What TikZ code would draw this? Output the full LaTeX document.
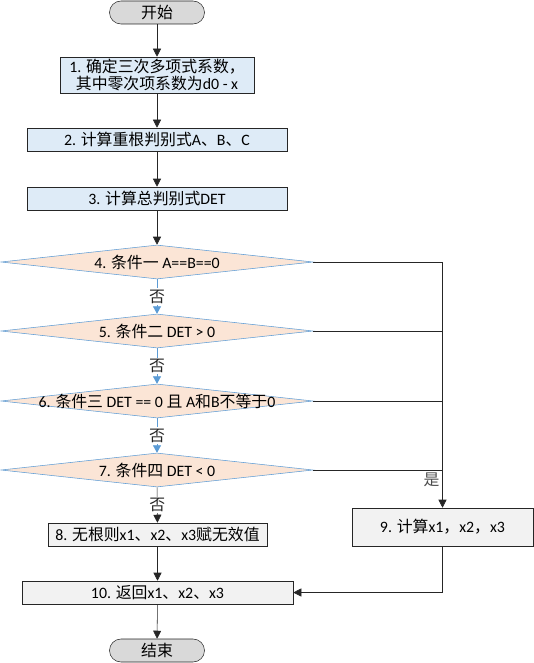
\documentclass[tikz,border=0pt]{standalone}
\usepackage{fontspec}
\setmainfont{Carlito}
\newfontfamily\zhfont{Noto Sans CJK SC}
\newcommand{\zhtext}[1]{{\zhfont #1}}
\usetikzlibrary{shapes.geometric,arrows.meta,calc}
\definecolor{termgray}{HTML}{D9D9D9}
\definecolor{stepblue}{HTML}{DEEBF7}
\definecolor{condfill}{HTML}{FBE5D6}
\definecolor{condline}{HTML}{5B9BD5}
\definecolor{boxgray}{HTML}{F2F2F2}

\begin{document}
\begin{tikzpicture}[x=0.75pt,y=-0.75pt,font=\fontsize{11.9}{13.2}\selectfont,
                >={Triangle[length=6pt,width=6pt]},
                term/.style={draw=black!85,fill=termgray,rounded corners=8.6pt,minimum width=71.25pt,minimum height=17.25pt,inner sep=0pt},
                stepbox/.style={draw=black!85,minimum height=17.25pt,inner sep=0pt,align=center},
                cond/.style={shape=diamond,draw=condline,fill=condfill,minimum width=234pt,minimum height=25.5pt,inner sep=0pt},
                flow/.style={->,draw=black!85},
                noflow/.style={-{Triangle[length=5.5pt,width=6pt]},draw=condline},
                nolabel/.style={fill=white,inner sep=1pt,text=black!85}]
                \useasboundingbox (0,0) rectangle (534,663);
                \node[term] (start) at (157,12.5) {\zhtext{开始}};
                \node[stepbox,fill=stepblue,minimum width=145.5pt,minimum height=27pt] (s1) at (157,75) {1. \zhtext{确定三次多项式系数，}\\\zhtext{其中零次项系数为}d0 - x};
                \node[stepbox,fill=stepblue,minimum width=195pt] (s2) at (157,139.5) {2. \zhtext{计算重根判别式}A\zhtext{、}B\zhtext{、}C};
                \node[stepbox,fill=stepblue,minimum width=195pt] (s3) at (157,198.5) {3. \zhtext{计算总判别式}DET};
                \node[cond,label={center:4. \zhtext{条件一} A==B==0}] (c4) at (157,262) {};
                \node[cond,label={center:5. \zhtext{条件二} DET > 0}] (c5) at (157,331) {};
                \node[cond,label={center:6. \zhtext{条件三} DET == 0 \zhtext{且} A\zhtext{和}B\zhtext{不等于}0}] (c6) at (157,401) {};
                \node[cond,label={center:7. \zhtext{条件四} DET < 0}] (c7) at (157,470) {};
                \node[stepbox,fill=boxgray,minimum width=164.25pt] (s8) at (157.5,534.5) {8. \zhtext{无根则}x1\zhtext{、}x2\zhtext{、}x3\zhtext{赋无效值}};
                \node[stepbox,fill=boxgray,minimum width=135.75pt,minimum height=28.5pt] (s9) at (442.5,527) {9. \zhtext{计算}x1\zhtext{，}x2\zhtext{，}x3};
                \node[stepbox,fill=boxgray,minimum width=203.25pt] (s10) at (157.5,592.5) {10. \zhtext{返回}x1\zhtext{、}x2\zhtext{、}x3};
                \node[term] (stop) at (157,650.5) {\zhtext{结束}};
                \draw[flow] (start) -- (s1);
                \draw[flow] (s1) -- (s2);
                \draw[flow] (s2) -- (s3);
                \draw[flow] (s3) -- (c4);
                \foreach \a/\b in {c4/c5,c5/c6,c6/c7}
                    \draw[noflow] (\a) -- node[nolabel] (no\a) {\zhtext{否}} (\b);
                \draw[flow] (c7) -- node[nolabel] (noc7) {\zhtext{否}} (s8);
                \draw[flow] (c4.east) -| (s9.north);
                \foreach \c in {c5,c6}
                    \draw[draw=black!85] (\c.east) -- (\c.east -| s9.north);
                \draw[draw=black!85] (c7.east) -- node[pos=1,anchor=north east,inner sep=2pt,text=black!70] (yes) {\zhtext{是}} (c7.east -| s9.north);
                \draw[flow] (s8) -- (s10);
                \draw[flow] (s9.south) |- (s10.east);
                \draw[flow] (s10) -- (stop);
            \end{tikzpicture}
\end{document}
